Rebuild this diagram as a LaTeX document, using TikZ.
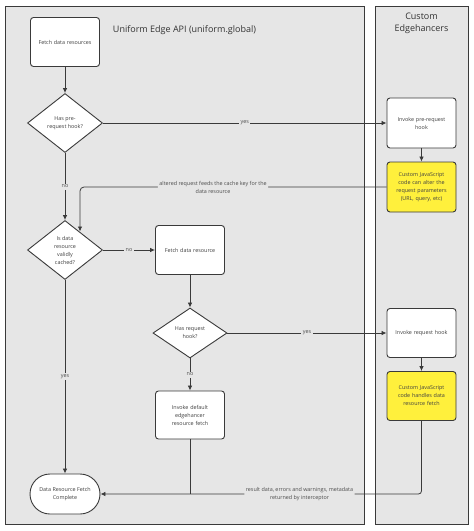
\documentclass[tikz,border=0pt]{standalone}
\usepackage{fontspec}
\setmainfont{Open Sans}
\usetikzlibrary{shapes.geometric}
\usetikzlibrary{arrows.meta}
\usetikzlibrary{positioning}

\definecolor{lanegray}{HTML}{E6E6E6}
\definecolor{lineclr}{HTML}{3A3A3A}
\definecolor{hookyellow}{HTML}{FFF03C}

\begin{document}
\begin{tikzpicture}[x=1pt,y=-1pt,
    font=\fontsize{5.4}{8}\selectfont,
    lane/.style={draw=lineclr,line width=1pt,fill=lanegray},
    task/.style={draw=lineclr,line width=0.9pt,fill=white,rounded corners=3pt,
      minimum width=69pt,minimum height=49pt,align=center,text width=62pt,text=black!75},
    hook/.style={task,fill=hookyellow},
    check/.style={diamond,draw=lineclr,line width=0.9pt,fill=white,inner sep=0pt,
      minimum width=75pt,minimum height=59pt,align=center,text=black!75},
    finish/.style={draw=lineclr,line width=0.9pt,fill=white,rounded corners=20pt,
      minimum width=70pt,minimum height=40pt,align=center,text=black!75},
    arr/.style={draw=lineclr,line width=0.8pt,-{Latex[length=5pt,width=4.5pt]}},
    lbl/.style={fill=lanegray,inner sep=1.5pt,align=center,text=black!70}]
    \useasboundingbox (0,0) rectangle (474,531);
    % swim lanes
    \draw[lane] (5,6) rectangle (364,524);
    \draw[lane] (375,6) rectangle (468,524);
    \node[font=\fontsize{9}{10}\selectfont,text=black!80] (apititle) at (184.5,30) {Uniform Edge API (uniform.global)};
    \node[font=\fontsize{9}{12}\selectfont,align=center,text=black!80] (ehtitle) at (421.5,23) {Custom\\Edgehancers};
    % api lane
    \node[task] (fetchall) at (65,42) {Fetch data resources};
    \node[check] (prehook) at (65,123) {Has pre-\\request hook?};
    \node[check] (cached) at (65,250) {Is data\\resource\\validly\\cached?};
    \node[task] (fetchone) at (190,250) {Fetch data resource};
    \node[check,minimum width=74pt,minimum height=50pt] (reqhook) at (190,333) {Has request\\hook?};
    \node[task,minimum height=48pt] (default) at (190,415) {Invoke default\\edgehancer\\resource fetch};
    \node[finish] (done) at (65,494) {Data Resource Fetch\\Complete};
    % edgehancer lane
    \node[task,minimum height=50pt] (invpre) at (421.5,123) {Invoke pre-request\\hook};
    \node[hook,minimum height=50pt] (alter) at (421.5,187) {Custom JavaScript\\code can alter the\\request parameters\\(URL, query, etc)};
    \node[task] (invreq) at (421.5,333) {Invoke request hook};
    \node[hook] (handles) at (421.5,396) {Custom JavaScript\\code handles data\\resource fetch};
    \coordinate (cachein) at (80,231.5);
    % connectors
    \draw[arr] (fetchall) -- (prehook);
    \draw[arr] (prehook) -- node[lbl] {yes} (invpre);
    \draw[arr] (prehook) -- node[lbl] {no} (cached);
    \draw[arr] (invpre) -- (alter);
    \draw[arr,rounded corners=4pt] (alter.west) -| node[lbl,pos=0.283] {altered request feeds the cache key for the\\data resource} (cachein);
    \draw[arr] (cached) -- node[lbl] {no} (fetchone);
    \draw[arr] (cached) -- node[lbl] {yes} (done);
    \draw[arr] (fetchone) -- (reqhook);
    \draw[arr] (reqhook) -- node[lbl] {yes} (invreq);
    \draw[arr] (reqhook) -- node[lbl] {no} (default);
    \draw[arr] (invreq) -- (handles);
    \draw[arr,rounded corners=3pt] (handles) |- node[lbl,pos=0.69] {result data, errors and warnings, metadata\\returned by interceptor} (done);
    \draw[draw=lineclr,line width=0.8pt] (default) -- (default |- done);
\end{tikzpicture}
\end{document}
